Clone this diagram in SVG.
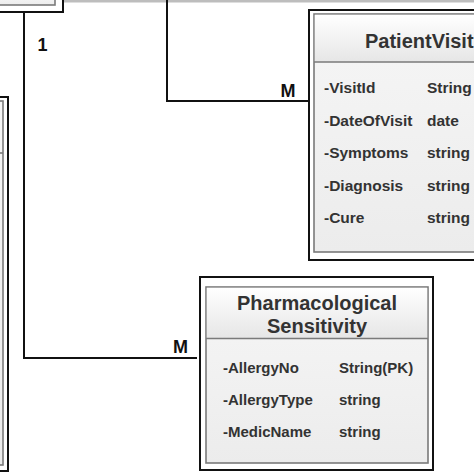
<svg xmlns="http://www.w3.org/2000/svg" width="474" height="474" viewBox="0 0 474 474">
<defs>
<linearGradient id="hdr" x1="0" y1="0" x2="0" y2="1">
<stop offset="0" stop-color="#ffffff"/>
<stop offset="1" stop-color="#e6e6e6"/>
</linearGradient>
<linearGradient id="body" x1="0" y1="0" x2="0" y2="1">
<stop offset="0" stop-color="#f6f6f6"/>
<stop offset="1" stop-color="#ececec"/>
</linearGradient>
</defs>
<style>
.outer{fill:#ffffff;stroke:#111;stroke-width:2}
.inner{stroke:#7a7a7a;stroke-width:1.6}
.div{stroke:#7a7a7a;stroke-width:1.6}
.conn{fill:none;stroke:#111;stroke-width:2}
text{font-family:"Liberation Sans",Arial,sans-serif;font-weight:bold;fill:#333}
.title{font-size:20px}
.row{font-size:15.5px}
.row2{font-size:15px}
.card{font-size:18px;fill:#111}
</style>
<rect x="0" y="0" width="474" height="474" fill="#ffffff"/>
<rect x="63" y="0" width="411" height="2.5" fill="#bdbdbd"/>

<g id="node-topleft">
<rect class="outer" x="-5" y="-5" width="68" height="17"/>
<rect class="inner" x="-5" y="-5" width="60" height="10" fill="url(#body)"/>
</g>

<g id="node-left">
<rect class="outer" x="-10" y="97" width="18" height="374"/>
<rect class="inner" x="-10" y="101" width="13" height="364" fill="url(#body)"/>
<line class="div" x1="-10" y1="153" x2="3" y2="153"/>
</g>

<g id="node-patientvisit">
<rect class="outer" x="309" y="10" width="200" height="250"/>
<rect class="inner" x="314" y="14" width="200" height="238" fill="url(#body)"/>
<rect x="314.8" y="14.8" width="198" height="47.2" fill="url(#hdr)"/>
<line class="div" x1="314" y1="62" x2="474" y2="62"/>
<text class="title" x="365" y="48">PatientVisit</text>
<text class="row" x="324" y="93">-VisitId</text>
<text class="row" x="427" y="93">String</text>
<text class="row" x="324" y="125.5">-DateOfVisit</text>
<text class="row" x="427" y="125.5">date</text>
<text class="row" x="324" y="158">-Symptoms</text>
<text class="row" x="427" y="158">string</text>
<text class="row" x="324" y="190.5">-Diagnosis</text>
<text class="row" x="427" y="190.5">string</text>
<text class="row" x="324" y="223">-Cure</text>
<text class="row" x="427" y="223">string</text>
</g>

<g id="node-pharm">
<rect class="outer" x="200" y="277" width="233" height="193"/>
<rect class="inner" x="206" y="287" width="222" height="176" fill="url(#body)"/>
<rect x="206.8" y="287.8" width="220.4" height="50.4" fill="url(#hdr)"/>
<line class="div" x1="206" y1="338.5" x2="428" y2="338.5"/>
<text class="title" x="317" y="310" text-anchor="middle" font-size="19.5">Pharmacological</text>
<text class="title" x="317" y="333" text-anchor="middle" font-size="19.5">Sensitivity</text>
<text class="row2" x="223" y="373">-AllergyNo</text>
<text class="row2" x="339" y="373">String(PK)</text>
<text class="row2" x="223" y="405">-AllergyType</text>
<text class="row2" x="339" y="405">string</text>
<text class="row2" x="223" y="437">-MedicName</text>
<text class="row2" x="339" y="437">string</text>
</g>

<g id="connectors">
<polyline class="conn" points="24,12 24,358 197,358"/>
<polyline class="conn" points="167,0 167,101 310,101"/>
<text class="card" x="42.5" y="51" text-anchor="middle">1</text>
<text class="card" x="180.5" y="353" text-anchor="middle">M</text>
<text class="card" x="288" y="97" text-anchor="middle">M</text>
</g>
</svg>
